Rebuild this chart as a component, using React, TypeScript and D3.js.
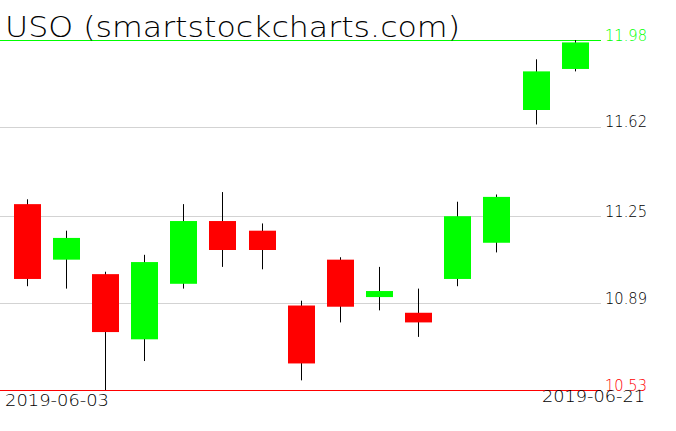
import { useEffect, useRef } from "react";
import * as d3 from "d3";

const dates = [
  "2019-06-03", "2019-06-04", "2019-06-05", "2019-06-06", "2019-06-07",
  "2019-06-10", "2019-06-11", "2019-06-12", "2019-06-13", "2019-06-14",
  "2019-06-17", "2019-06-18", "2019-06-19", "2019-06-20", "2019-06-21",
];
const opens = [11.30, 11.07, 11.01, 10.74, 10.97, 11.23, 11.19, 10.88, 11.07, 10.915, 10.85, 10.99, 11.14, 11.69, 11.86];
const highs = [11.32, 11.19, 11.02, 11.09, 11.30, 11.35, 11.22, 10.90, 11.08, 11.04, 10.95, 11.31, 11.34, 11.90, 11.98];
const lows = [10.96, 10.95, 10.53, 10.65, 10.95, 11.04, 11.03, 10.57, 10.81, 10.86, 10.75, 10.96, 11.10, 11.63, 11.85];
const closes = [10.99, 11.16, 10.77, 11.06, 11.23, 11.11, 11.11, 10.64, 10.875, 10.94, 10.81, 11.25, 11.33, 11.85, 11.97];
const yTicks = [10.53, 10.89, 11.25, 11.62, 11.98];

const W = 676;
const H = 431;
const FONT = "'DejaVu Sans', sans-serif";

export default function App() {
  const ref = useRef<SVGSVGElement | null>(null);

  useEffect(() => {
    if (!ref.current) return;
    const svg = d3.select(ref.current);
    svg.selectAll("*").remove();

    const lo = d3.min(lows) as number;
    const hi = d3.max(highs) as number;
    const y = d3.scaleLinear().domain([lo, hi]).range([390, 40]);
    const x = d3.scalePoint<string>().domain(dates).range([26.7, 574.7]);
    const bodyW = 27;

    svg.append("rect").attr("width", W).attr("height", H).attr("fill", "#fff");

    // grid lines (top green = max, bottom red = min)
    yTicks.forEach((t, i) => {
      const col = i === yTicks.length - 1 ? "#00ff00" : i === 0 ? "#ff0000" : "#d3d3d3";
      const yy = Math.round(y(t)) + 0.5;
      svg.append("line")
        .attr("x1", 0).attr("x2", 601)
        .attr("y1", yy).attr("y2", yy)
        .attr("stroke", col).attr("stroke-width", 1);
    });

    svg.append("text")
      .attr("x", 5).attr("y", 37)
      .attr("font-family", FONT).attr("font-weight", 200)
      .attr("font-size", 28)
      .attr("textLength", 455).attr("lengthAdjust", "spacingAndGlyphs")
      .attr("fill", "#000")
      .text("USO (smartstockcharts.com)");

    // candles
    const g = svg.append("g");
    dates.forEach((d, i) => {
      const cx = Math.round(x(d) as number) + 0.5;
      g.append("line")
        .attr("x1", cx).attr("x2", cx)
        .attr("y1", y(highs[i])).attr("y2", y(lows[i]))
        .attr("stroke", "#000").attr("stroke-width", 1);
      const up = closes[i] >= opens[i];
      const top = y(Math.max(opens[i], closes[i]));
      const bot = y(Math.min(opens[i], closes[i]));
      g.append("rect")
        .attr("x", cx - bodyW / 2)
        .attr("y", top)
        .attr("width", bodyW)
        .attr("height", Math.max(1, bot - top))
        .attr("fill", up ? "#00ff00" : "#ff0000");
    });

    // y labels
    yTicks.forEach((t, i) => {
      const col = i === yTicks.length - 1 ? "#00ff00" : i === 0 ? "#ff0000" : "#000";
      svg.append("text")
        .attr("x", 605).attr("y", y(t) + 0.5)
        .attr("font-family", FONT).attr("font-weight", 200)
        .attr("font-size", 15)
        .attr("textLength", 42).attr("lengthAdjust", "spacingAndGlyphs")
        .attr("fill", col)
        .text(t.toFixed(2));
    });

    // date labels
    svg.append("text")
      .attr("x", 5).attr("y", 406)
      .attr("font-family", FONT).attr("font-weight", 200)
      .attr("font-size", 15)
      .attr("textLength", 104).attr("lengthAdjust", "spacingAndGlyphs")
      .attr("fill", "#000")
      .text(dates[0]);
    svg.append("text")
      .attr("x", 542).attr("y", 401.5)
      .attr("font-family", FONT).attr("font-weight", 200)
      .attr("font-size", 15)
      .attr("textLength", 103).attr("lengthAdjust", "spacingAndGlyphs")
      .attr("fill", "#000")
      .text(dates[dates.length - 1]);
  }, []);

  return (
    <svg
      ref={ref}
      width={W}
      height={H}
      style={{ position: "absolute", left: 0, top: 0, display: "block" }}
    />
  );
}
